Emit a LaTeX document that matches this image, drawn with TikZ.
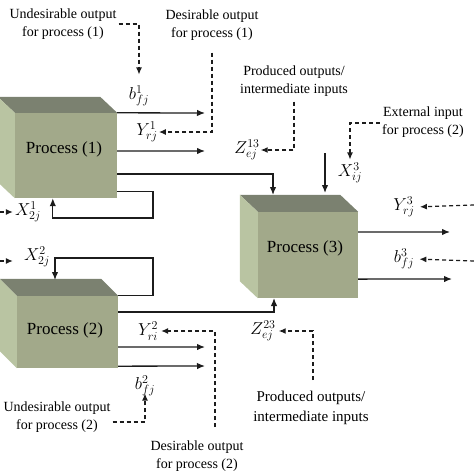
\documentclass[tikz,border=0pt]{standalone}
\usepackage{fontspec}
\setmainfont{Liberation Serif}
\DeclareMathSizes{16}{16}{11.5}{9}
\usetikzlibrary{arrows.meta,calc}
\definecolor{frontc}{HTML}{A2A98A}
\definecolor{topc}{HTML}{7B8170}
\definecolor{sidec}{HTML}{B9C4A2}
\definecolor{linec}{HTML}{1C1C1C}
\tikzset{
  procbox/.style={rectangle, fill=frontc, inner sep=0pt},
  ptext/.style={font=\fontsize{17}{20}\selectfont},
  lbl/.style={align=center, inner sep=2pt, font=\fontsize{14}{18}\selectfont},
  lblbig/.style={align=center, inner sep=2pt, font=\fontsize{15}{20}\selectfont},
  mlbl/.style={inner sep=1pt, font=\fontsize{16}{18}\selectfont},
  sol/.style={draw=linec, line width=1.3pt, -{Latex[length=8pt,width=6.5pt]}},
  dsh/.style={draw=linec, line width=1.2pt, dash pattern=on 4pt off 3pt, -{Latex[length=7pt,width=6pt]}},
}
\newcommand{\cubefaces}[2]{%
  \fill[topc] (#1.north west) -- ++(#2) -- ($(#1.north east)+(#2)$) -- (#1.north east) -- cycle;
  \fill[sidec] (#1.north west) -- ++(#2) -- ($(#1.south west)+(#2)$) -- (#1.south west) -- cycle;
}
\begin{document}
\begin{tikzpicture}[x=1pt,y=-1pt]
\useasboundingbox (0,0) rectangle (474,474);
\begin{scope}
\clip (0,0) rectangle (474,474);
% boxes
\node[procbox, minimum width=102pt, minimum height=85pt] (p1) at (66,155.5) {};
\node[procbox, minimum width=101pt, minimum height=72pt] (p2) at (67.5,332) {};
\node[procbox, minimum width=100pt, minimum height=86pt] (p3) at (308,255) {};
\cubefaces{p1}{-17,-16}
\cubefaces{p2}{-17,-17}
\cubefaces{p3}{-18,-17}
\node[ptext] (t1) at (64,149) {Process (1)};
\node[ptext] (t2) at (65,330) {Process (2)};
\node[ptext] (t3) at (305,248) {Process (3)};

% text labels
\node[lbl] (u1) at (63,24) {Undesirable output\\for process (1)};
\node[lbl] (d1) at (212,25) {Desirable output\\for process (1)};
\node[lbl] (pz1) at (294,81) {Produced outputs/\\intermediate inputs};
\node[lbl] (ext) at (423,122) {External input\\for process (2)};
\node[lbl] (u2) at (57,417) {Undesirable output\\for process (2)};
\node[lbl] (d2) at (197,456) {Desirable output\\for process (2)};
\node[lblbig] (pz2) at (311,408) {Produced outputs/\\intermediate inputs};

% math labels
\node[mlbl] (b1) at (139,96) {$b^{1}_{fj}$};
\node[mlbl] (Y1) at (147,132) {$Y^{1}_{rj}$};
\node[mlbl] (Z13) at (247,150) {$Z^{13}_{ej}$};
\node[mlbl] (X3) at (350,173) {$X^{3}_{ij}$};
\node[mlbl] (Y3) at (404,207) {$Y^{3}_{rj}$};
\node[mlbl] (b3) at (404,259) {$b^{3}_{fj}$};
\node[mlbl] (X1) at (28,212) {$X^{1}_{2j}$};
\node[mlbl] (X2) at (37,257) {$X^{2}_{2j}$};
\node[mlbl] (Y2) at (148,331) {$Y^{2}_{ri}$};
\node[mlbl] (b2) at (145,386) {$b^{2}_{fj}$};
\node[mlbl] (Z23) at (263,331) {$Z^{23}_{ej}$};

% free-end coordinates
\coordinate (e1a) at (205,113);
\coordinate (e1b) at (205,151);
\coordinate (l1) at (153,218);
\coordinate (in3a) at (273,195);
\coordinate (ext3s) at (325,153);
\coordinate (ext3e) at (325,193);
\coordinate (e3a) at (450,232);
\coordinate (e3b) at (452,279);
\coordinate (y3s) at (474,205);
\coordinate (b3s) at (474,261);
\coordinate (x1s) at (0,212);
\coordinate (x2s) at (0,261);
\coordinate (l2) at (153,258);
\coordinate (in2top) at (55,280);
\coordinate (in3b) at (274,298);
\coordinate (e2a) at (205,347);
\coordinate (e2b) at (205,366);
\coordinate (d2s) at (215,427);
\coordinate (z23s) at (313,380);

% process 1 outputs
\draw[sol] (p1.north east) -- (e1a);
\draw[sol] ($(p1.north east)!0.447!(p1.south east)$) -- (e1b);
\draw[sol] ($(p1.north east)!0.718!(p1.south east)$) -| (in3a);
\draw[sol] ($(p1.north east)!0.918!(p1.south east)$) -| (l1) -| ($(p1.south west)+(38,0)$);

% process 2
\draw[sol] (p2.north east) -| (l2) -| (in2top);
\draw[sol] ($(p2.north east)!0.222!(p2.south east)$) -| (in3b);
\draw[sol] ($(p2.north east)!0.708!(p2.south east)$) -- (e2a);
\draw[sol] ($(p2.north east)!0.972!(p2.south east)$) -- (e2b);

% process 3
\draw[sol] (ext3s) -- (ext3e);
\draw[sol] ($(p3.north east)!0.233!(p3.south east)$) -- (e3a);
\draw[sol] ($(p3.north east)!0.779!(p3.south east)$) -- (e3b);

% dashed connectors
\draw[dsh, shorten >=10pt] (u1.east) -| (b1.north);
\draw[dsh, shorten <=10pt] (d1.south) |- (Y1.east);
\draw[dsh, shorten <=3pt] (pz1.south) |- (Z13.east);
\draw[dsh, shorten >=2pt] ([yshift=-1pt]ext.west) -| (X3.north);
\draw[dsh, shorten >=4pt] (y3s) -- (Y3.east);
\draw[dsh, shorten >=4pt] (b3s) -- (b3.east);
\draw[dsh, shorten >=1pt] (x1s) -- (X1.west);
\draw[dsh, shorten >=10pt] (x2s) -- (X2.west |- x2s);
\draw[dsh, shorten >=2pt] (d2s) |- (Y2.east);
\draw[dsh, shorten >=-4pt] ([yshift=-5pt]u2.east) -| (b2.south);
\draw[dsh, shorten >=2pt] (z23s) |- (Z23.east);
\end{scope}
\end{tikzpicture}
\end{document}
